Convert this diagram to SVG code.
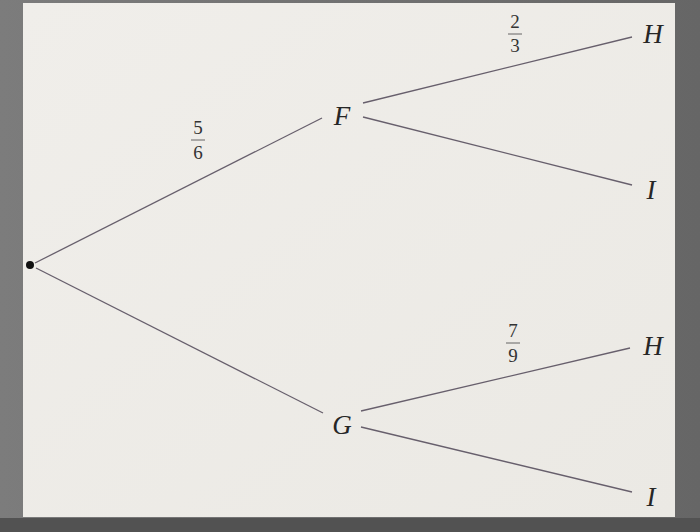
<svg xmlns="http://www.w3.org/2000/svg" width="700" height="532" viewBox="0 0 700 532">
<defs>
<linearGradient id="bg" x1="0" y1="0" x2="1" y2="1">
<stop offset="0" stop-color="#f0eeea"/>
<stop offset="1" stop-color="#ebe9e4"/>
</linearGradient>
<linearGradient id="frame" x1="0" y1="0" x2="1" y2="0">
<stop offset="0" stop-color="#7c7c7c"/>
<stop offset="1" stop-color="#666"/>
</linearGradient>
</defs>
<style>
.edge{stroke:#675f6c;stroke-width:1.3;fill:none}
.lbl{font-family:"Liberation Serif","Times New Roman",serif;font-style:italic;font-size:27px;fill:#262626;text-anchor:middle}
.num{font-family:"Liberation Serif","Times New Roman",serif;font-size:19px;fill:#333;text-anchor:middle}
.bar{stroke:#555;stroke-width:0.9}
</style>
<rect x="0" y="0" width="700" height="532" fill="url(#frame)"/>
<rect x="0" y="518" width="700" height="14" fill="#525252"/>
<rect x="23" y="3" width="652" height="514" fill="url(#bg)"/>
<g id="connectors">
<line class="edge" x1="35" y1="263" x2="322" y2="118"/>
<line class="edge" x1="36" y1="268" x2="323" y2="413"/>
<line class="edge" x1="363" y1="103" x2="632" y2="37"/>
<line class="edge" x1="363" y1="117" x2="632" y2="185"/>
<line class="edge" x1="361" y1="411" x2="630" y2="348"/>
<line class="edge" x1="361" y1="427" x2="632" y2="492"/>
</g>
<g id="root"><circle cx="30" cy="265" r="4" fill="#111"/></g>
<g id="F"><text class="lbl" x="342" y="125">F</text></g>
<g id="G"><text class="lbl" x="342" y="434">G</text></g>
<g id="H1"><text class="lbl" x="653" y="43">H</text></g>
<g id="I1"><text class="lbl" x="651" y="199">I</text></g>
<g id="H2"><text class="lbl" x="653" y="355">H</text></g>
<g id="I2"><text class="lbl" x="651" y="506">I</text></g>
<g id="p56"><text class="num" x="198" y="134">5</text><line class="bar" x1="191" y1="140" x2="205" y2="140"/><text class="num" x="198" y="159">6</text></g>
<g id="p23"><text class="num" x="515" y="28">2</text><line class="bar" x1="508" y1="34" x2="522" y2="34"/><text class="num" x="515" y="52">3</text></g>
<g id="p79"><text class="num" x="513" y="337">7</text><line class="bar" x1="506" y1="343" x2="520" y2="343"/><text class="num" x="513" y="362">9</text></g>
</svg>
